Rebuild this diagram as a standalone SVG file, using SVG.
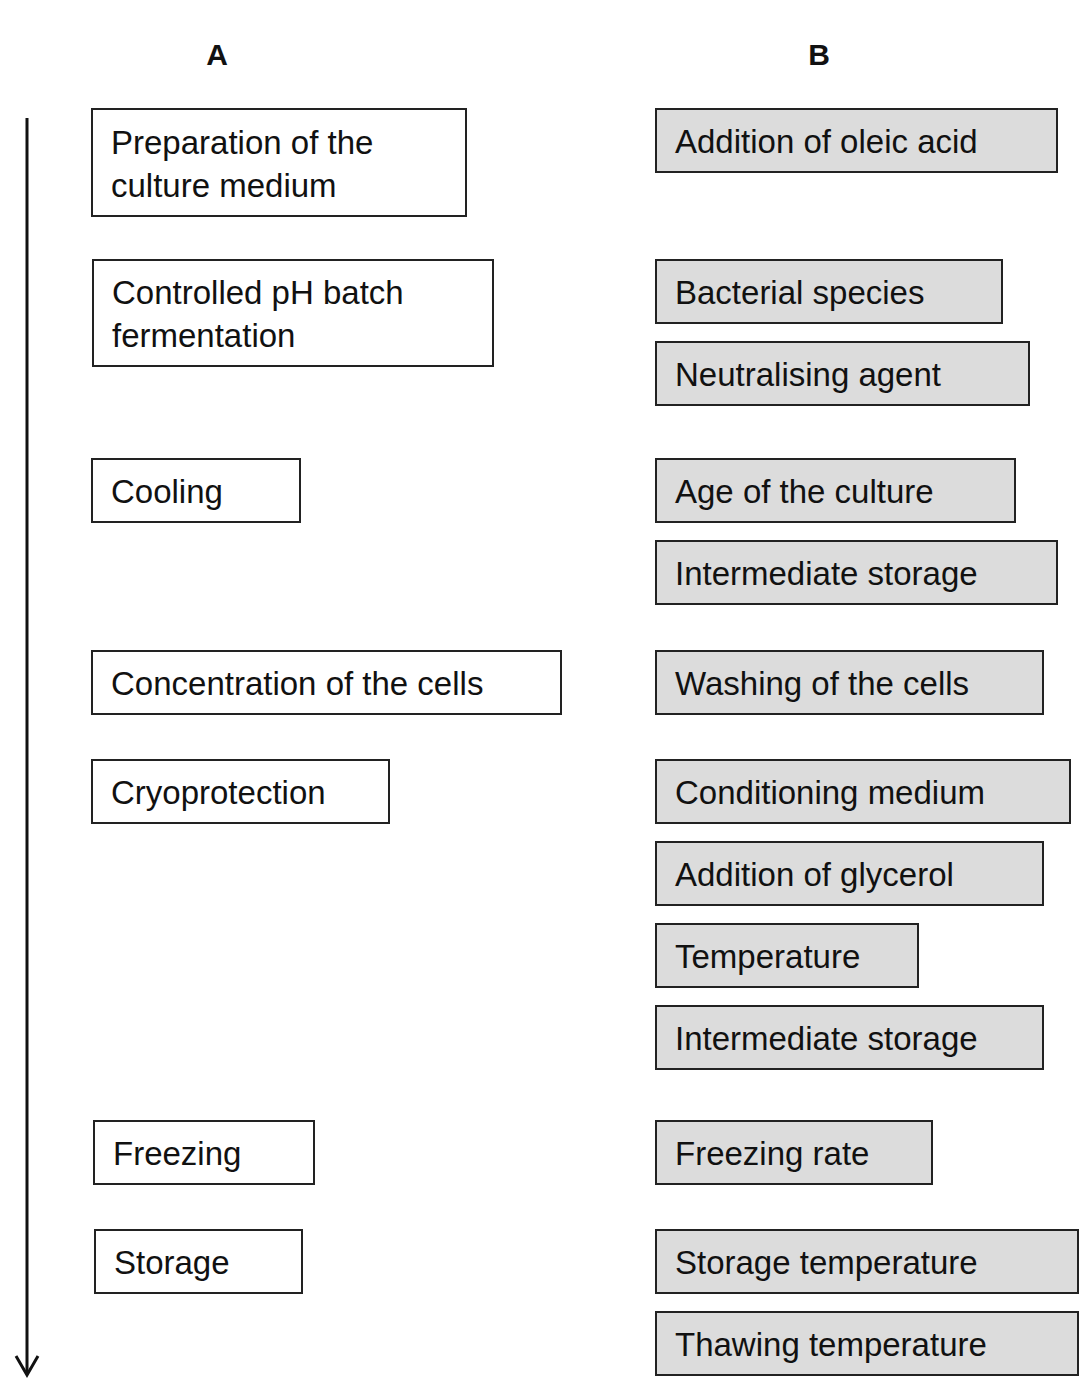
<svg xmlns="http://www.w3.org/2000/svg" width="1086" height="1394" viewBox="0 0 1086 1394">
<style>
text{font-family:"Liberation Sans",Arial,sans-serif;font-size:33px;fill:#111}
.h{font-weight:bold;font-size:30px;text-anchor:middle}
.a{fill:#fff;stroke:#222;stroke-width:2}
.b{fill:#dcdcdc;stroke:#222;stroke-width:2}
</style>
<defs><marker id="ah" viewBox="0 0 10 10" refX="9" refY="5" markerWidth="8" markerHeight="8" markerUnits="userSpaceOnUse" orient="auto"><path d="M0,0 L10,5 L0,10" fill="none" stroke="#111" stroke-width="1.5"/></marker></defs>
<rect width="1086" height="1394" fill="#fff"/>
<text class="h" x="217" y="65">A</text>
<text class="h" x="819" y="65">B</text>
<g id="connectors"><line x1="27" y1="118" x2="27" y2="1374" stroke="#111" stroke-width="3" marker-end="url(#ah)"/><path d="M16,1356 L27,1375 L38,1356" fill="none" stroke="#111" stroke-width="3"/></g>
<g id="a1"><rect class="a" x="92" y="109" width="374" height="107"/><text x="111" y="154">Preparation of the</text><text x="111" y="197">culture medium</text></g>
<g id="a2"><rect class="a" x="93" y="260" width="400" height="106"/><text x="112" y="304">Controlled pH batch</text><text x="112" y="347">fermentation</text></g>
<g id="a3"><rect class="a" x="92" y="459" width="208" height="63"/><text x="111" y="503">Cooling</text></g>
<g id="a4"><rect class="a" x="92" y="651" width="469" height="63"/><text x="111" y="695">Concentration of the cells</text></g>
<g id="a5"><rect class="a" x="92" y="760" width="297" height="63"/><text x="111" y="804">Cryoprotection</text></g>
<g id="a6"><rect class="a" x="94" y="1121" width="220" height="63"/><text x="113" y="1165">Freezing</text></g>
<g id="a7"><rect class="a" x="95" y="1230" width="207" height="63"/><text x="114" y="1274">Storage</text></g>
<g id="b1"><rect class="b" x="656" y="109" width="401" height="63"/><text x="675" y="153">Addition of oleic acid</text></g>
<g id="b2"><rect class="b" x="656" y="260" width="346" height="63"/><text x="675" y="304">Bacterial species</text></g>
<g id="b3"><rect class="b" x="656" y="342" width="373" height="63"/><text x="675" y="386">Neutralising agent</text></g>
<g id="b4"><rect class="b" x="656" y="459" width="359" height="63"/><text x="675" y="503">Age of the culture</text></g>
<g id="b5"><rect class="b" x="656" y="541" width="401" height="63"/><text x="675" y="585">Intermediate storage</text></g>
<g id="b6"><rect class="b" x="656" y="651" width="387" height="63"/><text x="675" y="695">Washing of the cells</text></g>
<g id="b7"><rect class="b" x="656" y="760" width="414" height="63"/><text x="675" y="804">Conditioning medium</text></g>
<g id="b8"><rect class="b" x="656" y="842" width="387" height="63"/><text x="675" y="886">Addition of glycerol</text></g>
<g id="b9"><rect class="b" x="656" y="924" width="262" height="63"/><text x="675" y="968">Temperature</text></g>
<g id="b10"><rect class="b" x="656" y="1006" width="387" height="63"/><text x="675" y="1050">Intermediate storage</text></g>
<g id="b11"><rect class="b" x="656" y="1121" width="276" height="63"/><text x="675" y="1165">Freezing rate</text></g>
<g id="b12"><rect class="b" x="656" y="1230" width="422" height="63"/><text x="675" y="1274">Storage temperature</text></g>
<g id="b13"><rect class="b" x="656" y="1312" width="422" height="63"/><text x="675" y="1356">Thawing temperature</text></g>
</svg>
